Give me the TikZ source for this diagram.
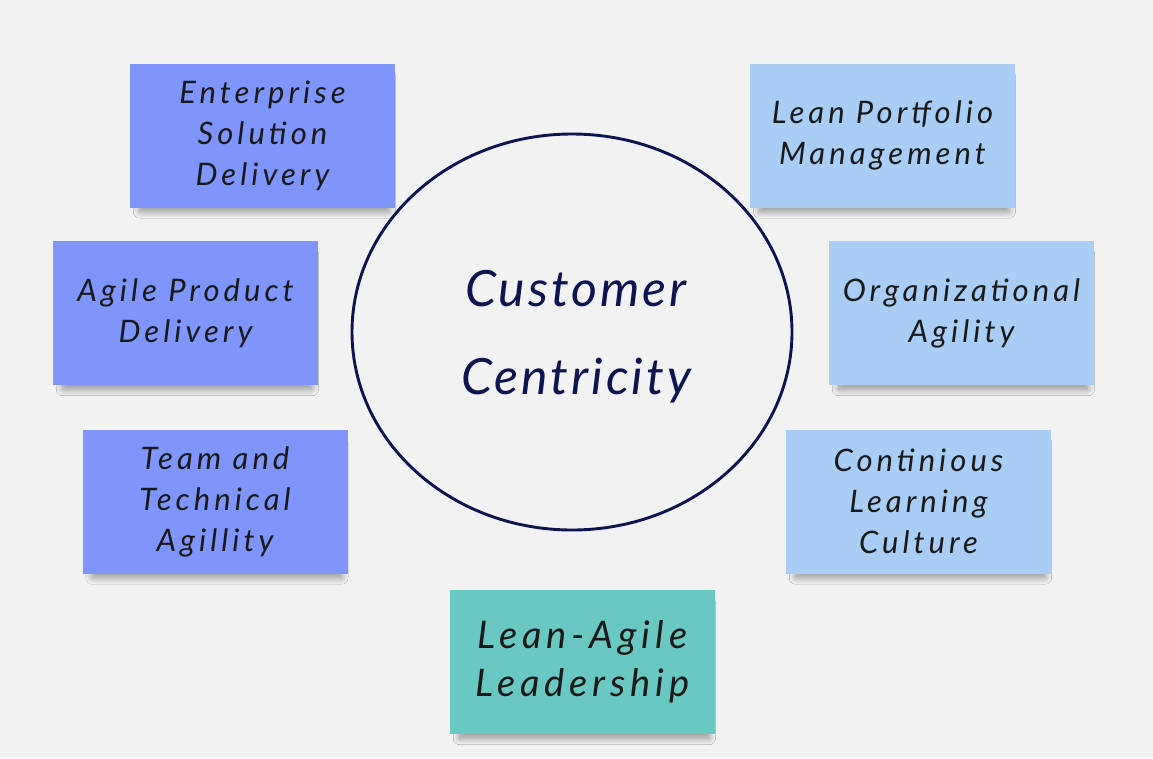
\documentclass[tikz,border=0pt]{standalone}
\usepackage{fontspec}
\setmainfont{Lato}
\newfontfamily\hand{Lato}[LetterSpace=13]
\newfontfamily\handwide{Lato}[LetterSpace=6]
\usetikzlibrary{shadows.blur,shapes.geometric}
\definecolor{bg}{RGB}{242,242,242}
\definecolor{violetnote}{RGB}{127,149,252}
\definecolor{bluenote}{RGB}{169,205,245}
\definecolor{tealnote}{RGB}{106,200,194}
\definecolor{navy}{RGB}{13,20,80}
\definecolor{ink}{RGB}{25,25,25}
\tikzset{
  note/.style={rectangle, minimum width=265pt, minimum height=144pt, inner sep=0pt,
    align=center, text=ink, font=\hand\itshape\fontsize{31}{41}\selectfont,
    blur shadow={shadow xshift=2pt, shadow yshift=-9pt, shadow blur steps=14, shadow blur radius=7pt, shadow opacity=40, shadow scale=0.94}},
  violet/.style={note, fill=violetnote},
  lightblue/.style={note, fill=bluenote},
  teal/.style={note, fill=tealnote},
  hub/.style={ellipse, draw=navy, line width=2.9pt, minimum width=440pt, minimum height=396pt},
  hubtext/.style={align=center, text=navy, font=\handwide\itshape\fontsize{50}{88}\selectfont}
}
\begin{document}
\begin{tikzpicture}[x=1pt,y=-1pt]
\fill[bg] (0,0) rectangle (1153,758);
\useasboundingbox (0,0) rectangle (1153,758);
\node[hub] (cc) at (572,332) {};
\node[hubtext] (cct) at (576,337) {Customer\\Centricity};
\node[violet] (esd) at (262.5,135.5) {Enterprise\\Solution\\Delivery};
\node[violet] (apd) at (185.5,313) {Agile Product\\Delivery};
\node[violet] (tta) at (215,501.5) {Team and\\Technical\\Agillity};
\node[lightblue] (lpm) at (882.5,135.5) {Lean Portfolio\\Management};
\node[lightblue] (oa) at (961.5,313) {Organizational\\Agility};
\node[lightblue] (clc) at (918.5,501.5) {Continious\\Learning\\Culture};
\node[teal, font=\hand\itshape\fontsize{38}{48}\selectfont] (lal) at (582.5,662) {Lean-Agile\\Leadership};
\end{tikzpicture}
\end{document}
